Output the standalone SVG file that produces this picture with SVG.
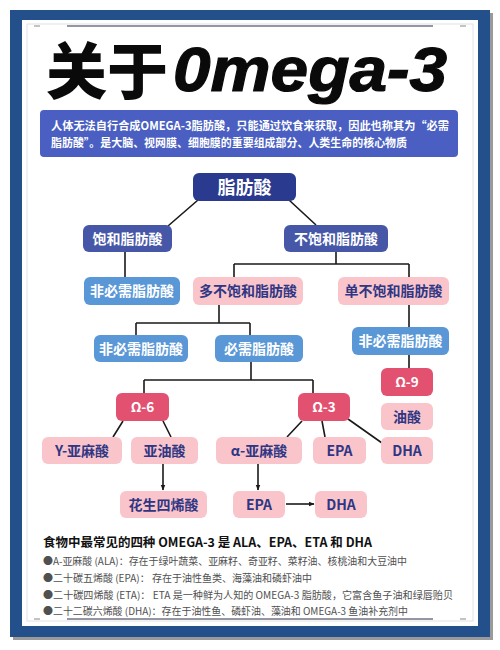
<svg xmlns="http://www.w3.org/2000/svg" width="500" height="650" viewBox="0 0 500 650">
<defs>
<marker id="ah" viewBox="0 0 10 10" refX="9" refY="5" markerWidth="6" markerHeight="6" orient="auto" markerUnits="userSpaceOnUse"><path d="M0,1 L10,5 L0,9 Z" fill="#1a1a1a"/></marker>
</defs>
<style>
text{font-family:"Noto Sans CJK SC","Noto Sans",sans-serif;font-weight:700}
.c{text-anchor:middle}
.w{fill:#ffffff}
.nv{fill:#2f3683}
.n1{fill:#2a3a8e}
.n2{fill:#4757a8}
.n3{fill:#5a97d6}
.pk{fill:#f9c5cb}
.om{fill:#e2516f}
.ln{stroke:#1a1a1a;stroke-width:1.6;fill:none}
.ft{font-size:10px;font-weight:400;fill:#505050}
</style>
<rect x="0" y="0" width="500" height="650" fill="#ffffff"/>
<rect x="13" y="13" width="480" height="627" fill="#9a9a9a"/>
<rect x="10" y="10" width="480" height="627" fill="#234f8a"/>
<rect x="22" y="20" width="456" height="606" fill="#ffffff"/>
<rect x="27" y="24" width="446" height="597" fill="none" stroke="#e2e2e2" stroke-width="1"/>
<line x1="67" y1="26" x2="433" y2="26" stroke="#2a2f4a" stroke-width="1.2"/>
<line x1="67" y1="619" x2="433" y2="619" stroke="#2a2f4a" stroke-width="1.2"/>
<g stroke="#888" stroke-width="1">
<line x1="34" y1="26" x2="40" y2="26"/><line x1="460" y1="26" x2="466" y2="26"/>
<line x1="34" y1="619" x2="40" y2="619"/><line x1="460" y1="619" x2="466" y2="619"/>
</g>
<g id="title">
<text x="46" y="94" style="font-size:61px;font-weight:900" fill="#0a0a0a">关于</text>
<text x="173" y="91" style="font-family:'Liberation Sans',sans-serif;font-size:63px;font-weight:700;font-style:italic" fill="#0a0a0a" stroke="#0a0a0a" stroke-width="1.2" textLength="274" lengthAdjust="spacingAndGlyphs">0mega-3</text>
</g>
<g id="banner">
<rect x="40" y="110" width="418" height="47" rx="4" fill="#4a5fc1"/>
<text x="51" y="130" class="w" style="font-size:11.5px" textLength="398" lengthAdjust="spacingAndGlyphs">人体无法自行合成OMEGA-3脂肪酸，只能通过饮食来获取，因此也称其为“必需</text>
<text x="51" y="147" class="w" style="font-size:11.5px" textLength="356" lengthAdjust="spacingAndGlyphs">脂肪酸”。是大脑、视网膜、细胞膜的重要组成部分、人类生命的核心物质</text>
</g>
<g id="connectors">
<path class="ln" d="M198,200 L168,226 M289,200 L316,225 M125,252 V277 M336,252 V264 M234,264 H409 M234,264 V277 M409,264 V277 M219,305 V323 M136,323 H250 M136,323 V335 M250,323 V335 M409,305 V327 M409,355 V368 M251,362 V380 M144,380 H313 M144,380 V393 M313,380 V393 M123,421 L113,437 M163,421 L171,437 M302,421 L287,437 M322,421 L325,437 M348,419 L382,443"/>
<path class="ln" d="M163,464 V490" marker-end="url(#ah)"/>
<path class="ln" d="M258,464 V490" marker-end="url(#ah)"/>
<path class="ln" d="M286,504 H314" marker-end="url(#ah)"/>
</g>
<g id="n-fa"><rect x="193" y="173" width="103" height="28" rx="6" class="n1"/><text x="244.5" y="193.5" class="c w" style="font-size:18px">脂肪酸</text></g>
<g id="n-sat"><rect x="83" y="225" width="89" height="27" rx="6" class="n2"/><text x="127.5" y="243.5" class="c w" style="font-size:14px">饱和脂肪酸</text></g>
<g id="n-unsat"><rect x="284" y="225" width="104" height="27" rx="6" class="n2"/><text x="336" y="243.5" class="c w" style="font-size:14px">不饱和脂肪酸</text></g>
<g id="n-ne1"><rect x="84" y="277" width="96" height="28" rx="6" class="n3"/><text x="132" y="296" class="c w" style="font-size:14px">非必需脂肪酸</text></g>
<g id="n-poly"><rect x="193" y="277" width="110" height="28" rx="6" class="pk"/><text x="248" y="296" class="c nv" style="font-size:14px">多不饱和脂肪酸</text></g>
<g id="n-mono"><rect x="338" y="277" width="111" height="28" rx="6" class="pk"/><text x="393.5" y="296" class="c nv" style="font-size:14px">单不饱和脂肪酸</text></g>
<g id="n-ne2"><rect x="94" y="335" width="94" height="27" rx="6" class="n3"/><text x="141" y="353.5" class="c w" style="font-size:14px">非必需脂肪酸</text></g>
<g id="n-ess"><rect x="215" y="335" width="88" height="27" rx="6" class="n3"/><text x="259" y="353.5" class="c w" style="font-size:14px">必需脂肪酸</text></g>
<g id="n-ne3"><rect x="352" y="327" width="97" height="28" rx="6" class="n3"/><text x="400.5" y="346" class="c w" style="font-size:14px">非必需脂肪酸</text></g>
<g id="n-o9"><rect x="381" y="368" width="52" height="28" rx="6" class="om"/><text x="407" y="387" class="c w" style="font-size:13.5px">Ω-9</text></g>
<g id="n-oleic"><rect x="381" y="403" width="52" height="27" rx="6" class="pk"/><text x="407" y="421.5" class="c nv" style="font-size:14px">油酸</text></g>
<g id="n-o6"><rect x="116" y="393" width="53" height="28" rx="6" class="om"/><text x="142.5" y="412" class="c w" style="font-size:13.5px">Ω-6</text></g>
<g id="n-o3"><rect x="298" y="393" width="52" height="28" rx="6" class="om"/><text x="324" y="412" class="c w" style="font-size:13.5px">Ω-3</text></g>
<g id="n-gla"><rect x="42" y="437" width="80" height="27" rx="6" class="pk"/><text x="82" y="455.5" class="c nv" style="font-size:14px">Y-亚麻酸</text></g>
<g id="n-la"><rect x="131" y="437" width="67" height="27" rx="6" class="pk"/><text x="164.5" y="455.5" class="c nv" style="font-size:14px">亚油酸</text></g>
<g id="n-ala"><rect x="216" y="437" width="86" height="27" rx="6" class="pk"/><text x="259" y="455.5" class="c nv" style="font-size:14px">α-亚麻酸</text></g>
<g id="n-epa1"><rect x="313" y="437" width="53" height="27" rx="6" class="pk"/><text x="339.5" y="455.5" class="c nv" style="font-size:14px">EPA</text></g>
<g id="n-dha1"><rect x="381" y="437" width="52" height="27" rx="6" class="pk"/><text x="407" y="455.5" class="c nv" style="font-size:14px">DHA</text></g>
<g id="n-aa"><rect x="120" y="491" width="87" height="27" rx="6" class="pk"/><text x="163.5" y="509.5" class="c nv" style="font-size:14px">花生四烯酸</text></g>
<g id="n-epa2"><rect x="233" y="491" width="52" height="27" rx="6" class="pk"/><text x="259" y="509.5" class="c nv" style="font-size:14px">EPA</text></g>
<g id="n-dha2"><rect x="315" y="491" width="52" height="27" rx="6" class="pk"/><text x="341" y="509.5" class="c nv" style="font-size:14px">DHA</text></g>
<g id="footnotes">
<text x="43" y="547" style="font-size:12.5px" fill="#111" textLength="329" lengthAdjust="spacingAndGlyphs">食物中最常见的四种 OMEGA-3 是 ALA、EPA、ETA 和 DHA</text>
<text x="43" y="565" class="ft" textLength="364" lengthAdjust="spacingAndGlyphs">●A-亚麻酸 (ALA)：存在于绿叶蔬菜、亚麻籽、奇亚籽、菜籽油、核桃油和大豆油中</text>
<text x="43" y="582" class="ft" textLength="269" lengthAdjust="spacingAndGlyphs">●二十碳五烯酸 (EPA)：  存在于油性鱼类、海藻油和磷虾油中</text>
<text x="43" y="599" class="ft" textLength="410" lengthAdjust="spacingAndGlyphs">●二十碳四烯酸 (ETA)：  ETA 是一种鲜为人知的 OMEGA-3 脂肪酸，它富含鱼子油和绿唇贻贝</text>
<text x="43" y="615" class="ft" textLength="365" lengthAdjust="spacingAndGlyphs">●二十二碳六烯酸 (DHA)：存在于油性鱼、磷虾油、藻油和 OMEGA-3 鱼油补充剂中</text>
</g>
</svg>
